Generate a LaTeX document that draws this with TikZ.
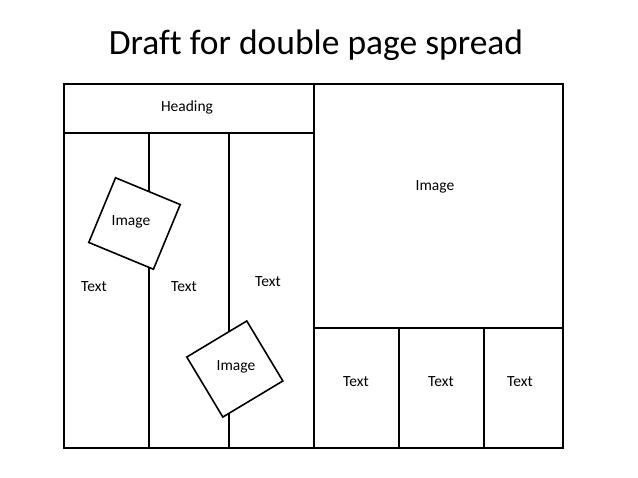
\documentclass[tikz,border=0pt]{standalone}
\usepackage{fontspec}
\setmainfont[Ligatures=NoCommon]{Carlito}
\begin{document}
\begin{tikzpicture}[x=1pt,y=-1pt,
  frame/.style={draw=black,line width=1.6pt},
  lbl/.style={font=\fontsize{15.5}{18}\selectfont,inner sep=0pt},
  imgbox/.style={draw=black,line width=1.6pt,fill=white,minimum width=70pt,minimum height=70pt,inner sep=0pt}]
\useasboundingbox (0,0) rectangle (638,478);
\node[font=\fontsize{35.5}{40}\selectfont,inner sep=0pt] (title) at (316,45) {Draft for double page spread};
% outer frame and divisions
\draw[frame] (64,84) rectangle (563,448);
\draw[frame] (64,133) -- (314,133);
\draw[frame] (314,84) -- (314,448);
\draw[frame] (149,133) -- (149,448);
\draw[frame] (229,133) -- (229,448);
\draw[frame] (314,328) -- (563,328);
\draw[frame] (399,328) -- (399,448);
\draw[frame] (484,328) -- (484,448);
% labels
\node[lbl] (heading) at (187,107) {Heading};
\node[lbl] (bigimg) at (435,187) {Image};
\node[lbl] (t1) at (94,287) {Text};
\node[lbl] (t2) at (184,287) {Text};
\node[lbl] (t3) at (268,282) {Text};
\node[lbl] (t4) at (356,382) {Text};
\node[lbl] (t5) at (441,382) {Text};
\node[lbl] (t6) at (520,382) {Text};
% rotated images
\node[imgbox,rotate=-22.5] (img1) at (134.5,223.5) {};
\node[lbl] (img1t) at (131,222) {Image};
\node[imgbox,rotate=31] (img2) at (234.8,369) {};
\node[lbl] (img2t) at (236,367) {Image};
\end{tikzpicture}
\end{document}
